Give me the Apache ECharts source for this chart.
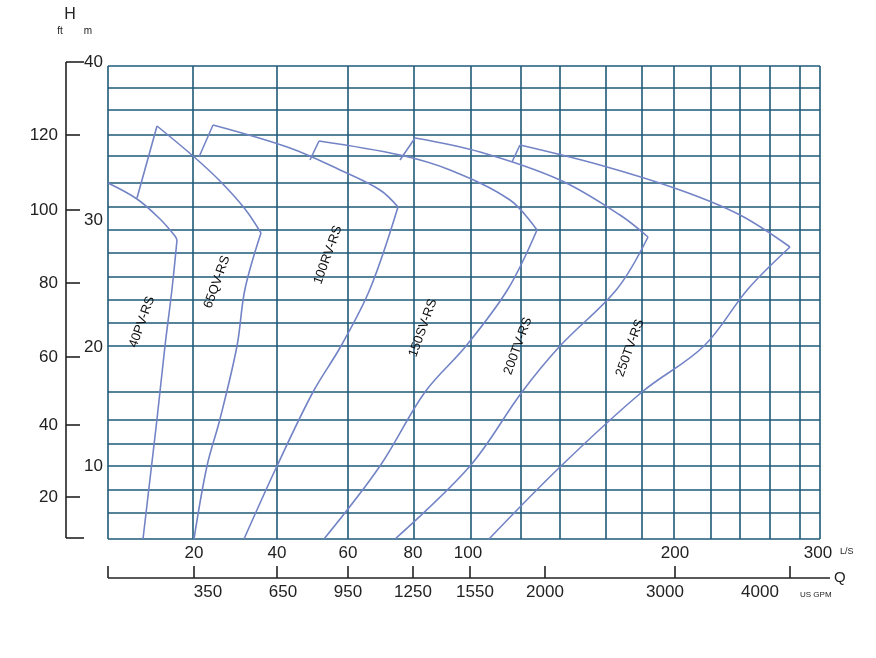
<!DOCTYPE html>
<html><head><meta charset="utf-8">
<script src="https://cdn.jsdelivr.net/npm/echarts@6/dist/echarts.min.js"></script>
<style>html,body{margin:0;background:#fff}#c{width:876px;height:658px}</style>
</head><body><div id="c"></div>
<script>
// chart units: x from left of plot (0..712), y from bottom of plot (0..473)
const gridX = [0,85,169,240,306,363,413,452,498,534,566,603,632,662,692,712];
const gridY = [0,26,49,73,95,119,147,193,216,239,262,286,309,332,356,383,404,429,451,473];
// pump curves: [x,y] points
const c40PV_head = [[0,356],[29,340],[52,320],[67,303],[69,299]];
const c40PV_down = [[69,299],[64,250],[57,193],[49,120],[42,60],[35,0]];
const c40PV_branch = [[29,341],[49,413]];
const c65QV_head = [[49,413],[85,383],[112,358],[137,330],[153,306]];
const c65QV_down = [[153,306],[137,250],[129,193],[112,120],[99,73],[86,0]];
const c65QV_branch = [[91,382],[105,414]];
const c100RV_head = [[105,414],[182,391],[232,369],[272,349],[290,332]];
const c100RV_down = [[290,332],[262,250],[233,193],[205,147],[169,73],[136,0]];
const c100RV_branch = [[202,379],[211,398]];
const c150SV_head = [[211,398],[292,384],[342,369],[402,339],[429,309]];
const c150SV_down = [[429,309],[400,250],[358,193],[317,147],[272,73],[216,0]];
const c200TV_branch = [[292,379],[307,401]];
const c200TV_head = [[307,401],[372,387],[452,359],[512,324],[540,302]];
const c200TV_down = [[540,302],[509,250],[452,193],[414,147],[362,73],[287,0]];
const c250TV_branch = [[404,377],[412,394]];
const c250TV_head = [[412,394],[492,374],[572,349],[632,324],[682,292]];
const c250TV_down = [[682,292],[640,250],[596,193],[534,147],[453,73],[381,0]];
const curveNames = ['40PV-RS','65QV-RS','100RV-RS','150SV-RS','200TV-RS','250TV-RS'];
const ftTicks = [120,100,80,60,40,20];
const ftTickY = [404,329,256,182,114,42];
const mTicks = [40,30,20,10];
const mTickY = [477,319,192,73];
const lsTicks = [20,40,60,80,100,200,300];
const lsTickX = [86,169,240,305,360,567,710];
const gpmTicks = [350,650,950,1250,1550,2000,3000,4000];
const gpmTickX = [100,175,240,305,367,437,557,652];
const gpmMarkX = [0,86,169,240,305,362,437,567,682];

const L = 108, T = 66, W = 712, H = 473;
const px = x => L + x, py = y => T + H - y;
const curves = [c40PV_head,c40PV_down,c40PV_branch,c65QV_head,c65QV_down,c65QV_branch,
  c100RV_head,c100RV_down,c100RV_branch,c150SV_head,c150SV_down,c200TV_branch,c200TV_head,c200TV_down,
  c250TV_branch,c250TV_head,c250TV_down];
const labelPos = [[34,217],[109,257],[220,284],[315,211],[410,193],[522,191]];

const series = [];
const gl = {color:'#1f5a78', width:1.6, type:'solid'};
series.push({type:'line', data:[], silent:true, markLine:{silent:true, symbol:'none', label:{show:false},
  lineStyle:gl, animation:false,
  data: gridX.map(v=>({xAxis:v})).concat(gridY.map(v=>({yAxis:v})))}});
curves.forEach(c=>series.push({type:'line', data:c, symbol:'none', smooth:0.35, z:5,
  lineStyle:{color:'#7384c6', width:1.6}, animation:false}));

const g = [];
const txt = (x,y,t,fs,extra) => g.push(Object.assign({type:'text', x, y, style:Object.assign({text:t, font:`${fs}px "Liberation Sans", Arial`, fill:'#222'}, extra||{})}));
const ln = (x1,y1,x2,y2) => g.push({type:'line', shape:{x1,y1,x2,y2}, style:{stroke:'#222', lineWidth:1.6}});
// left axis
ln(66,62,66,538); ln(66,538,84,538); ln(66,62,84,62);
ftTicks.forEach((t,i)=>{const y=py(ftTickY[i]); ln(66,y,80,y); txt(58,y,String(t),17,{align:'right',verticalAlign:'middle'});});
mTicks.forEach((t,i)=>txt(103,py(mTickY[i]),String(t),17,{align:'right',verticalAlign:'middle'}));
txt(70,15,'H',16,{align:'center',verticalAlign:'middle'});
txt(60,31,'ft',10,{align:'center',verticalAlign:'middle'});
txt(88,31,'m',10,{align:'center',verticalAlign:'middle'});
// bottom axis
ln(108,578,830,578);
gpmMarkX.forEach(x=>ln(px(x),566,px(x),578));
lsTicks.forEach((t,i)=>txt(px(lsTickX[i]),553,String(t),17,{align:'center',verticalAlign:'middle'}));
gpmTicks.forEach((t,i)=>txt(px(gpmTickX[i]),592,String(t),17,{align:'center',verticalAlign:'middle'}));
txt(840,552,'L/S',9,{verticalAlign:'middle'});
txt(834,578,'Q',15,{verticalAlign:'middle'});
txt(800,595,'US GPM',8,{verticalAlign:'middle'});
curveNames.forEach((n,i)=>g.push({type:'text', x:px(labelPos[i][0]), y:py(labelPos[i][1]), rotation:Math.PI*70/180,
  style:{text:n, font:'13px "Liberation Sans", Arial', fill:'#111', align:'center', verticalAlign:'middle'}, z:10}));

const chart = echarts.init(document.getElementById('c'));
chart.setOption({
  animation:false,
  grid:{left:L, top:T, width:W, height:H},
  xAxis:{type:'value', min:0, max:W, show:false},
  yAxis:{type:'value', min:0, max:H, show:false},
  series, graphic:g
});
</script></body></html>
